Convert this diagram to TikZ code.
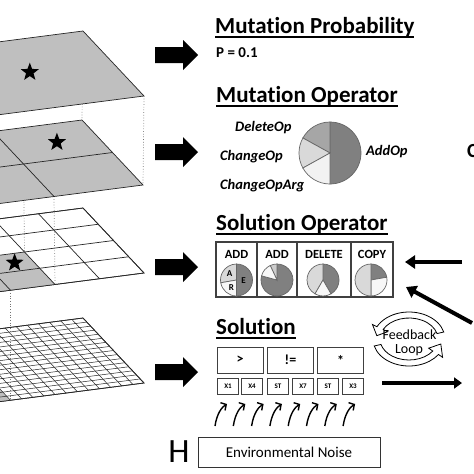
\documentclass[tikz,border=0pt]{standalone}
\usepackage{fontspec}
\setmainfont{Carlito}[Ligatures=NoCommon]
\usetikzlibrary{calc,shapes.geometric,arrows.meta}

\newcommand\ulhead[1]{\setbox0\hbox{#1}\rlap{\rule[-4.5pt]{\wd0}{1.8pt}}\box0}
% slice of a pie, angles counted as usual (counter-clockwise)
\newcommand\pieslice[5]{\filldraw[fill=#5, draw=black!60, line width=0.7pt]
  (#1) -- ++({-#3}:#2) arc[start angle={-#3}, end angle={-#4}, radius=#2] -- cycle;}

\tikzset{
  plane/.style={draw=black!85, line width=0.7pt},
  planegray/.style={fill=black!25},
  link/.style={black!55, dotted, line width=0.7pt},
  starmark/.style={star, star points=5, star point ratio=2.4, fill=black,
    inner sep=0pt, minimum size=19pt},
  heading/.style={anchor=base west, inner sep=0pt,
    font=\bfseries\fontsize{23}{26}\selectfont},
  pielabel/.style={anchor=base west, inner sep=0pt,
    font=\bfseries\itshape\fontsize{14.5}{16}\selectfont},
  opcell/.style={draw=black!75, line width=1.1pt, minimum height=55pt, inner sep=0pt},
  oplabel/.style={inner sep=0pt, font=\bfseries\fontsize{12.5}{14}\selectfont},
  slicelabel/.style={inner sep=0pt, font=\bfseries\fontsize{9}{10}\selectfont},
  genebox/.style={draw=black!75, line width=0.9pt, minimum width=46pt,
    minimum height=26pt, inner sep=0pt, font=\bfseries\fontsize{14}{16}\selectfont},
  varbox/.style={draw=black!75, line width=0.9pt, minimum width=21.5pt,
    minimum height=16pt, inner sep=0pt, font=\bfseries\fontsize{7}{8}\selectfont},
  noisearrow/.style={line width=1.4pt, -{Straight Barb[length=4pt,width=9pt]}},
  fatarrow/.style={line width=4pt, -{Triangle[length=10pt,width=13pt]}},
  loopar/.style={draw=black, line width=0.8pt, fill=white},
}

\begin{document}
\begin{tikzpicture}[x=1pt, y=-1pt]
\useasboundingbox (0,0) rectangle (474,474);
\clip (0,0) rectangle (474,474);

% layers, from the bottom up
\begin{scope}[shift={(83,318)}, x={(-178pt,-23pt)}, y={(61pt,-65pt)}]
  \coordinate (L4fq) at (0.75,1);
  \filldraw[plane, fill=white] (0,0) -- (1,0) -- (1,1) -- (0,1) -- cycle;
  \fill[planegray] (0.75,0.75) -- (1,0.75) -- (1,1) -- (0.75,1) -- cycle;
  \foreach \k in {1,...,15}
    \draw[plane, line width=0.5pt] (\k/16,0) -- (\k/16,1) (0,\k/16) -- (1,\k/16);
  \draw[plane] (0,0) -- (1,0) -- (1,1) -- (0,1) -- cycle;
\end{scope}

\begin{scope}[shift={(83,208)}, x={(-178pt,-23pt)}, y={(61pt,-65pt)}]
  \coordinate (L3c) at (0.5,0.5);
  \coordinate (L3fm) at (0.5,1);
  \coordinate (L3fq) at (0.75,1);
  \draw[link] (L3fq) -- (L4fq);
  \filldraw[plane, fill=white] (0,0) -- (1,0) -- (1,1) -- (0,1) -- cycle;
  \fill[planegray] (0.5,0.5) -- (1,0.5) -- (1,1) -- (0.5,1) -- cycle;
  \foreach \k in {0.25,0.5,0.75}
    \draw[plane] (\k,0) -- (\k,1) (0,\k) -- (1,\k);
  \draw[plane] (0,0) -- (1,0) -- (1,1) -- (0,1) -- cycle;
  \node[starmark] (star3) at (0.6,0.63) {};
\end{scope}

\begin{scope}[shift={(82,120)}, x={(-178pt,-23pt)}, y={(61pt,-65pt)}]
  \coordinate (L2br) at (0,0);
  \coordinate (L2fr) at (0,1);
  \coordinate (L2c) at (0.5,0.5);
  \coordinate (L2fm) at (0.5,1);
  \draw[link] (L2c) -- (L3c);
  \draw[link] (L2fm) -- (L3fm);
  \filldraw[plane, planegray] (0,0) -- (1,0) -- (1,1) -- (0,1) -- cycle;
  \draw[plane] (0.5,0) -- (0.5,1) (0,0.5) -- (1,0.5);
  \node[starmark] (star2) at (0.23,0.26) {};
\end{scope}

\begin{scope}[shift={(83,31)}, x={(-178pt,-23pt)}, y={(61pt,-65pt)}]
  \coordinate (L1br) at (0,0);
  \coordinate (L1fr) at (0,1);
  \draw[link] (L1br) -- (L2br);
  \draw[link] (L1fr) -- (L2fr);
  \filldraw[plane, planegray] (0,0) -- (1,0) -- (1,1) -- (0,1) -- cycle;
  \node[starmark] (star1) at (0.46,0.47) {};
\end{scope}

% block arrows
\foreach \y in {55,152,267,372}
  \fill (155,{\y-8}) -- (183,{\y-8}) -- (183,{\y-15}) -- (198,\y)
    -- (183,{\y+15}) -- (183,{\y+8}) -- (155,{\y+8}) -- cycle;

% mutation probability
\node[heading] (mprob) at (215,33) {\ulhead{Mutation Probability}};
\node[anchor=base west, inner sep=0pt, font=\bfseries\fontsize{15}{17}\selectfont]
  (pval) at (216,57) {P = 0.1};

% mutation operator
\node[heading] (mop) at (216,102) {\ulhead{Mutation Operator}};
\coordinate (mopie) at (330,153);
\pieslice{mopie}{31}{-90}{90}{black!50}
\pieslice{mopie}{31}{90}{151}{black!35}
\pieslice{mopie}{31}{151}{209}{black!15}
\pieslice{mopie}{31}{209}{270}{black!5}
\node[pielabel] (delop) at (235,131) {DeleteOp};
\node[pielabel] (chop) at (220,160) {ChangeOp};
\node[pielabel] (chopa) at (220,189) {ChangeOpArg};
\node[pielabel] (addop) at (366,155) {AddOp};
\node[anchor=west, inner sep=0pt, font=\bfseries\fontsize{20}{22}\selectfont]
  (cut) at (467,151) {C};

% solution operator
\node[heading] (sop) at (216,230) {\ulhead{Solution Operator}};
\node[opcell, minimum width=41pt] (so1) at (236.5,269.5) {};
\node[opcell, minimum width=40pt] (so2) at (277,269.5) {};
\node[opcell, minimum width=54pt] (so3) at (324,269.5) {};
\node[opcell, minimum width=42pt] (so4) at (372,269.5) {};
\node[oplabel] at ($(so1.center)+(0,-15.5)$) {ADD};
\node[oplabel] at ($(so2.center)+(0,-15.5)$) {ADD};
\node[oplabel] at ($(so3.center)+(0,-15.5)$) {DELETE};
\node[oplabel] at ($(so4.center)+(0,-15.5)$) {COPY};
\coordinate (p1) at ($(so1.center)+(0,10.5)$);
\coordinate (p2) at ($(so2.center)+(0,10.5)$);
\coordinate (p3) at ($(so3.center)+(-1,10.5)$);
\coordinate (p4) at ($(so4.center)+(-1,10.5)$);
\pieslice{p1}{16}{-90}{90}{black!50}
\pieslice{p1}{16}{90}{190}{black!15}
\pieslice{p1}{16}{190}{270}{black!3}
\node[slicelabel] at ($(p1)+(-7,-6)$) {A};
\node[slicelabel] at ($(p1)+(7,1)$) {E};
\node[slicelabel] at ($(p1)+(-5,8)$) {R};
\pieslice{p2}{16}{165}{450}{black!50}
\pieslice{p2}{16}{90}{115}{black!20}
\pieslice{p2}{16}{115}{165}{black!3}
\pieslice{p3}{16}{-60}{90}{black!50}
\pieslice{p3}{16}{90}{240}{black!15}
\pieslice{p3}{16}{240}{300}{black!3}
\pieslice{p4}{16}{10}{90}{black!50}
\pieslice{p4}{16}{-90}{10}{black!3}
\pieslice{p4}{16}{90}{270}{black!15}

\coordinate (in1s) at (462,262);
\coordinate (in1e) at (405,262);
\coordinate (in2s) at (472,323);
\coordinate (in2e) at (406,287);
\draw[fatarrow] (in1s) -- (in1e);
\draw[fatarrow] (in2s) -- (in2e);

% solution
\node[heading] (sol) at (216,334) {\ulhead{Solution}};
\node[genebox] (g1) at (240,360) {>};
\node[genebox] (g2) at (290.5,360) {!=};
\node[genebox] (g3) at (340.5,360) {*};
\node[varbox] (v1) at (228,386) {X1};
\node[varbox] (v2) at (252,386) {X4};
\node[varbox] (v3) at (278,386) {ST};
\node[varbox] (v4) at (303,386) {X7};
\node[varbox] (v5) at (328,386) {ST};
\node[varbox] (v6) at (353,386) {X3};
\coordinate (out1) at (382,383);
\coordinate (out2) at (462,383);
\draw[line width=3.5pt, -{Triangle[length=8pt,width=11pt]}] (out1) -- (out2);

% feedback loop
\coordinate (fbc) at (409,339);
\draw[loopar] ($(fbc)+(345:36 and 27)$)
  arc[start angle=345, end angle=207, x radius=36, y radius=27]
  -- ($(fbc)+(207:41 and 32)$) -- ($(fbc)+(188:32.5 and 24)$)
  -- ($(fbc)+(207:24 and 16)$) -- ($(fbc)+(207:29 and 21)$)
  arc[start angle=207, end angle=345, x radius=29, y radius=21] -- cycle;
\draw[loopar] ($(fbc)+(165:36 and 27)$)
  arc[start angle=165, end angle=35, x radius=36, y radius=27]
  -- ($(fbc)+(35:41 and 32)$) -- ($(fbc)+(12:32.5 and 24)$)
  -- ($(fbc)+(35:24 and 16)$) -- ($(fbc)+(35:29 and 21)$)
  arc[start angle=35, end angle=165, x radius=29, y radius=21] -- cycle;
\node[inner sep=0pt, font=\fontsize{14}{16}\selectfont] (fb) at (409.5,335) {Feedback};
\node[inner sep=0pt, font=\fontsize{14}{16}\selectfont] (lp) at (409,350) {Loop};

% environmental noise
\foreach \i in {0,...,7} {
  \coordinate (n\i) at ({215+18.3*\i},426);
  \coordinate (t\i) at ({227+18.3*\i},404);
  \draw[noisearrow] (n\i) .. controls ($(n\i)+(2,-13)$) and ($(t\i)+(-5,3)$) .. (t\i);
}
\node[draw=black!80, line width=0.9pt, minimum width=182pt, minimum height=30pt,
  inner sep=0pt, font=\fontsize{15}{17}\selectfont] (noise) at (289,452) {Environmental Noise};
\node[inner sep=0pt, font=\fontsize{34}{36}\selectfont] (hlabel) at (179,452) {H};
\end{tikzpicture}
\end{document}
